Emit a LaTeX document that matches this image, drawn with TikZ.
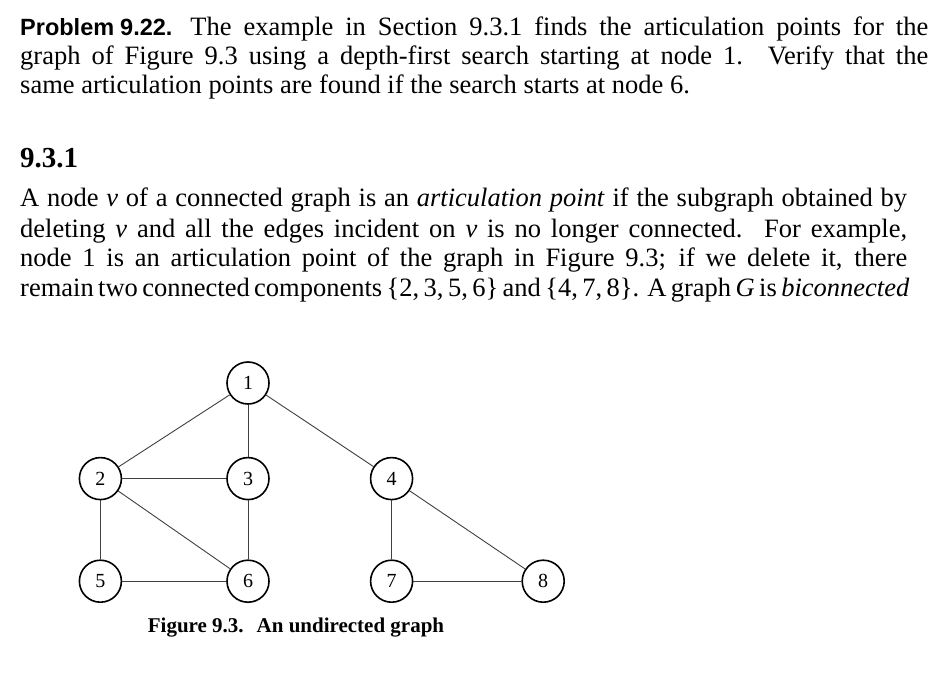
\documentclass[tikz,border=0pt]{standalone}
\usepackage{fontspec}
\setmainfont{Liberation Serif}
\setsansfont{Liberation Sans}
\usetikzlibrary{positioning}

\begin{document}
\begin{tikzpicture}[
        x=1pt, y=-1pt,
        textline/.style={anchor=base west, inner sep=0pt, font=\fontsize{26.5}{29}\selectfont},
        vertex/.style={circle, draw, line width=1.6pt, minimum size=42pt, inner sep=0pt, font=\fontsize{20}{20}\selectfont},
        edge/.style={draw=black!75, line width=0.9pt}
    ]
    \useasboundingbox (0,0) rectangle (946,682);

    % problem text
    \node[textline] (prob1) at (20,36) {\makebox[908pt][s]{\textsf{\bfseries\fontsize{23.5}{29}\selectfont Problem\hspace{6pt}9.22.}\hspace{18pt}The example in Section 9.3.1 finds the articulation points for the}};
    \node[textline] (prob2) at (20,65) {\makebox[908pt][s]{graph of Figure 9.3 using a depth-first search starting at node 1.\hspace{3pt} Verify that the}};
    \node[textline] (prob3) at (20,94) {same articulation points are found if the search starts at node 6.};

    % section text
    \node[textline, font=\fontsize{29}{30}\selectfont\bfseries] (sec) at (20,168) {9.3.1};
    \node[textline] (par1) at (20,207) {\makebox[887pt][s]{A node \textit{v} of a connected graph is an \textit{articulation point} if the subgraph obtained by}};
    \node[textline] (par2) at (20,237) {\makebox[887pt][s]{deleting \textit{v} and all the edges incident on \textit{v} is no longer connected.\hspace{3pt} For example,}};
    \node[textline] (par3) at (20,266) {\makebox[887pt][s]{node 1 is an articulation point of the graph in Figure 9.3; if we delete it, there}};
    \node[textline] (par4) at (20,296) {\makebox[887pt][s]{remain two connected components \{2,\,3,\,5,\,6\} and \{4,\,7,\,8\}. A graph \textit{G} is \textit{biconnected}}};

    % graph
    \node[vertex] (n1) at (248,383) {1};
    \node[vertex, below=52pt of n1] (n3) {3};
    \node[vertex, left=104pt of n3] (n2) {2};
    \node[vertex, right=100pt of n3] (n4) {4};
    \node[vertex, below=59pt of n2] (n5) {5};
    \node[vertex, below=59pt of n3] (n6) {6};
    \node[vertex, below=59pt of n4] (n7) {7};
    \node[vertex, right=108pt of n7] (n8) {8};

    \draw[edge] (n1) -- (n2);
    \draw[edge] (n1) -- (n3);
    \draw[edge] (n1) -- (n4);
    \draw[edge] (n2) -- (n3);
    \draw[edge] (n2) -- (n5);
    \draw[edge] (n2) -- (n6);
    \draw[edge] (n3) -- (n6);
    \draw[edge] (n5) -- (n6);
    \draw[edge] (n4) -- (n7);
    \draw[edge] (n4) -- (n8);
    \draw[edge] (n7) -- (n8);

    \node[anchor=base, inner sep=0pt, font=\fontsize{21}{24}\selectfont\bfseries] (caption) at (296,632) {Figure 9.3.\hspace{6pt} An undirected graph};
\end{tikzpicture}
\end{document}
